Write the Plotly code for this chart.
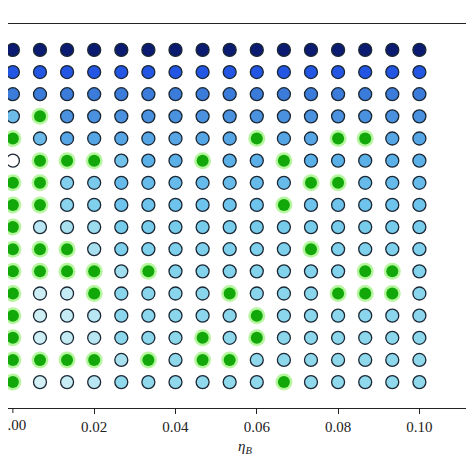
import plotly.graph_objects as go

# grid of eta_B values (x) and row index (y, top to bottom)
eta_b = [0.0, 0.00667, 0.01333, 0.02, 0.02667, 0.03333, 0.04, 0.04667,
         0.05333, 0.06, 0.06667, 0.07333, 0.08, 0.08667, 0.09333, 0.1]
rows = list(range(16))
tick_vals = [0.02, 0.04, 0.06, 0.08, 0.10]

# fill colour of each row (right part of grid)
row_colors = ["#0b1b72", "#2356e2", "#3b7bd9", "#4a91df", "#56a6e6", "#5cb0e8",
              "#66bbea", "#6ec4ec", "#78cceb", "#7fd0ec", "#84d3ec", "#88d5ec",
              "#8bd6ec", "#8dd7ec", "#8fd8ec", "#90d8ec"]
# lighter fills near the left edge: (row, col) -> colour
left_colors = {
    (3, 0): "#6cbbe9",
    (4, 1): "#6ab9e8", (5, 4): "#72c2ea",
    (6, 2): "#82cfee", (6, 3): "#7acaec", (7, 2): "#8ad4ee", (7, 3): "#80cfed",
    (8, 1): "#b8e6f2", (8, 2): "#a8e0f0", (8, 3): "#9cdcef",
    (11, 1): "#cdeef5", (11, 2): "#c5ebf4", (12, 1): "#cdeef5", (12, 2): "#c5ebf4",
    (12, 3): "#b8e6f2", (13, 1): "#cdeef5", (13, 2): "#c5ebf4", (13, 3): "#b8e6f2",
    (15, 1): "#d3f0f6", (15, 2): "#c8ecf4", (15, 3): "#b8e6f2",
    (9, 3): "#a8e0f0", (10, 4): "#a0ddef", (14, 4): "#a8e0f0",
}
# empty (white) marker
empty_points = [(5, 0)]
# green points (row, col)
green_points = [
    (3, 1),
    (4, 0), (4, 9), (4, 12), (4, 13),
    (5, 1), (5, 2), (5, 3), (5, 7), (5, 10),
    (6, 0), (6, 1), (6, 11), (6, 12),
    (7, 0), (7, 1), (7, 10),
    (8, 0),
    (9, 0), (9, 1), (9, 2), (9, 11),
    (10, 0), (10, 1), (10, 2), (10, 3), (10, 5), (10, 13), (10, 14),
    (11, 0), (11, 3), (11, 8), (11, 12), (11, 13), (11, 14),
    (12, 0), (12, 9),
    (13, 0), (13, 7), (13, 9),
    (14, 0), (14, 1), (14, 2), (14, 3), (14, 5), (14, 7), (14, 8),
    (15, 0), (15, 10),
]

green_set = set(green_points)
empty_set = set(empty_points)

bx, by, bc = [], [], []
for r in rows:
    for c, x in enumerate(eta_b):
        if (r, c) in green_set:
            continue
        bx.append(x)
        by.append(r)
        if (r, c) in empty_set:
            bc.append("white")
        else:
            bc.append(left_colors.get((r, c), row_colors[r]))

gx = [eta_b[c] for r, c in green_points]
gy = [r for r, c in green_points]

fig = go.Figure()
fig.add_trace(go.Scatter(
    x=bx, y=by, mode="markers",
    marker=dict(size=13, color=bc, line=dict(color="#1b2733", width=1.3)),
    showlegend=False, hoverinfo="skip"
))
# soft glow behind green points
fig.add_trace(go.Scatter(
    x=gx, y=gy, mode="markers",
    marker=dict(size=17, color="rgba(90,235,40,0.45)", line_width=0),
    showlegend=False, hoverinfo="skip"
))
fig.add_trace(go.Scatter(
    x=gx, y=gy, mode="markers",
    marker=dict(size=12, color="#12a80a", line_width=0),
    showlegend=False, hoverinfo="skip"
))

# first tick label sits at the edge, so place it by hand
fig.add_annotation(x=0.0, y=0, xref="x", yref="paper", yanchor="top", yshift=-7,
                   text="0.00", showarrow=False, font=dict(size=15))
fig.add_shape(type="line", xref="x", yref="paper", x0=0.0, x1=0.0, y0=0, y1=-0.013,
              line=dict(color="#222", width=1))

fig.update_layout(
    width=474, height=474,
    margin=dict(l=0, r=0, t=16, b=74),
    plot_bgcolor="white", paper_bgcolor="white",
    font=dict(family="Liberation Serif, DejaVu Serif, serif", size=15, color="#222"),
    xaxis=dict(
        range=[-0.0012, 0.1154], tickvals=tick_vals,
        tickformat=".2f", ticks="outside", ticklen=5, tickcolor="#222",
        showgrid=False, zeroline=False, showline=True, linecolor="#222", linewidth=1.2,
        mirror=True,
        title=dict(text="<i>η</i><sub><i>B</i></sub>", standoff=6, font=dict(size=15)),
    ),
    yaxis=dict(
        range=[16.17, -1.17], showticklabels=False, ticks="",
        showgrid=False, zeroline=False, showline=False,
    ),
)

fig.write_html("out.html")
